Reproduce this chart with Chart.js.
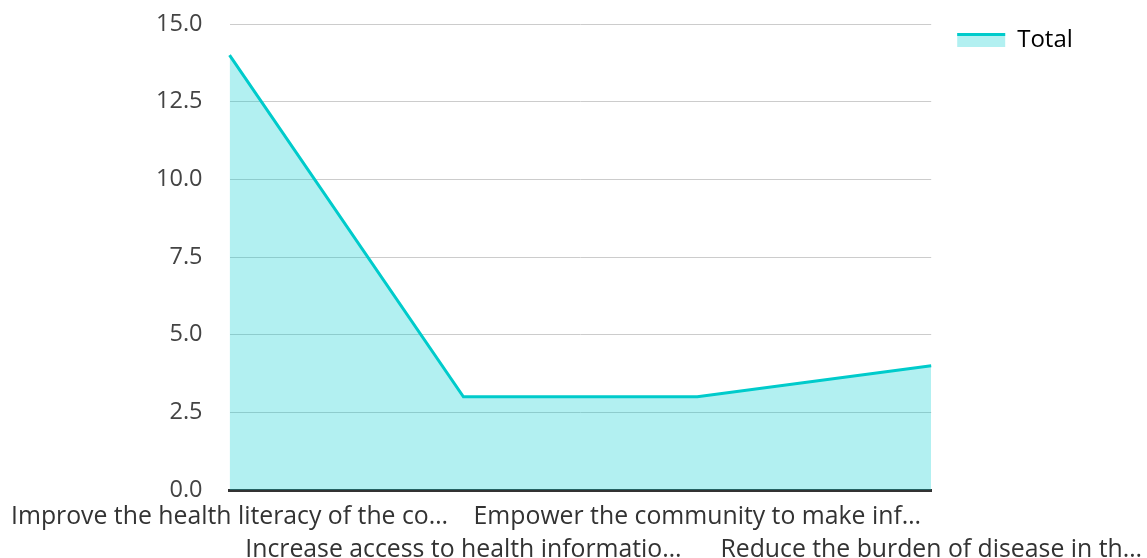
<!DOCTYPE html>
<html>
<head>
<meta charset="utf-8">
<script src="https://cdn.jsdelivr.net/npm/chart.js@4"></script>
<style>
  html, body { margin: 0; padding: 0; background: #fff; overflow: hidden; }
  /* a bit larger than the window: the lower labels run past the edges, as in the source */
  #wrap { width: 1153px; height: 577px; }
</style>
</head>
<body>
<div id="wrap"><canvas id="totalChart"></canvas></div>
<script>
// categories (already cut short in the source chart)
const categories = [
    'Improve the health literacy of the co\u2026',
    'Increase access to health informatio\u2026',
    'Empower the community to make inf\u2026',
    'Reduce the burden of disease in th\u2026'
];
const totalValues = [14, 3, 3, 4];
const yTicks = [0, 2.5, 5, 7.5, 10, 12.5, 15];

const lineColor = '#00CBCB';
const fillColor = 'rgba(0, 206, 209, 0.3)';
const fontFamily = '"Open Sans", "Noto Sans", sans-serif';

// draw the teal stripe on top of the legend box
const legendStripe = {
    id: 'legendStripe',
    afterDraw(chart) {
        const lg = chart.legend;
        if (!lg || !lg.legendHitBoxes) return;
        const c = chart.ctx;
        lg.legendHitBoxes.forEach(box => {
            const top = box.top + (box.height - 14) / 2;
            c.save();
            c.fillStyle = lineColor;
            c.fillRect(box.left, top, 48, 3);
            c.restore();
        });
    }
};

const ctx = document.getElementById('totalChart').getContext('2d');
const totalChart = new Chart(ctx, {
    type: 'line',
    data: {
        // odd labels go on a second row
        labels: categories.map((c, i) => i % 2 ? ['', c] : c),
        datasets: [{
            label: 'Total',
            data: totalValues,
            borderColor: lineColor,
            backgroundColor: fillColor,
            borderWidth: 3,
            fill: 'origin',
            pointRadius: 0,
            tension: 0
        }]
    },
    options: {
        responsive: true,
        maintainAspectRatio: false,
        animation: false,
        layout: { padding: { left: 8, right: 0, top: 2, bottom: 0 } },
        plugins: {
            tooltip: { enabled: false },
            legend: {
                position: 'right',
                align: 'start',
                labels: {
                    font: { family: fontFamily, size: 24 },
                    color: '#333',
                    boxWidth: 48,
                    boxHeight: 14,
                    padding: 26,
                    generateLabels: (chart) => [{
                        text: 'Total',
                        fillStyle: fillColor,
                        strokeStyle: fillColor,
                        lineWidth: 0,
                        datasetIndex: 0
                    }]
                }
            }
        },
        scales: {
            x: {
                offset: false,
                grid: { display: false, drawTicks: false },
                border: { color: '#333', width: 3 },
                ticks: {
                    autoSkip: false,
                    maxRotation: 0,
                    padding: 11,
                    color: '#333',
                    font: { family: fontFamily, size: 24.8, lineHeight: 1.31 }
                }
            },
            y: {
                min: 0,
                max: 15,
                afterBuildTicks: (axis) => { axis.ticks = yTicks.map(v => ({ value: v })); },
                grid: { color: '#cccccc', lineWidth: 1, drawTicks: true, tickLength: 17, tickColor: 'rgba(0,0,0,0)' },
                border: { display: false },
                ticks: {
                    padding: 10,
                    color: '#444',
                    font: { family: fontFamily, size: 23.5 },
                    callback: (v) => Number(v).toFixed(1)
                }
            }
        }
    },
    plugins: [legendStripe]
});
</script>
</body>
</html>
